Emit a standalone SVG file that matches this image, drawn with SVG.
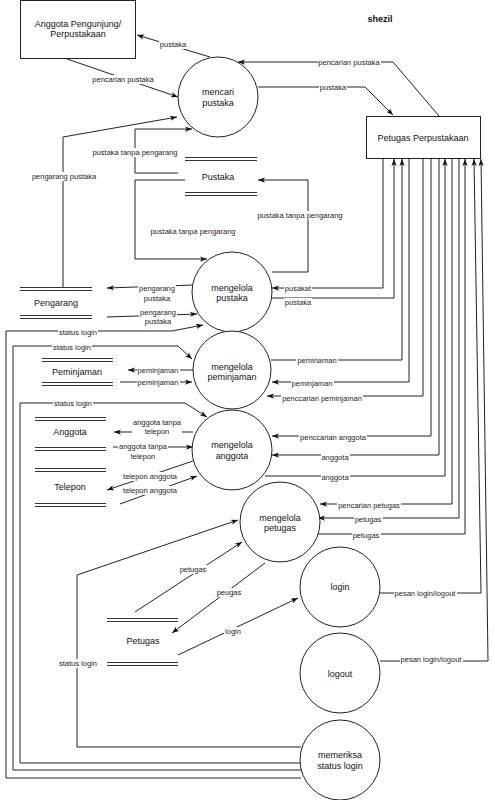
<svg xmlns="http://www.w3.org/2000/svg" width="495" height="800" viewBox="0 0 495 800">
<style>
.n{fill:#fff;stroke:#222;stroke-width:1}
.s{stroke:#333;stroke-width:1}
.t{font-family:"Liberation Sans",Arial,sans-serif;font-size:9px;fill:#111;text-anchor:middle}
.c path{fill:none;stroke:#222;stroke-width:1}
.a{marker-end:url(#ar)}
.b{fill:#fff}
.l{font-family:"Liberation Sans",Arial,sans-serif;font-size:7.5px;fill:#222;text-anchor:middle}
</style>
<defs>
<marker id="ar" viewBox="0 0 8 6" refX="8" refY="3" markerWidth="7" markerHeight="5.5" orient="auto" markerUnits="userSpaceOnUse"><path d="M0,0 L8,3 L0,6 L2,3z" fill="#111"/></marker>
</defs>
<rect width="495" height="800" fill="#fff"/>
<g class="c" id="connectors">
<path class="a" d="M210,57 L137,35"/>
<path class="a" d="M67,59 L178,97"/>
<path class="a" d="M439,116 L393,62 L238,62"/>
<path class="a" d="M258,87 L365,87 L393,115"/>
<path class="a" d="M178,173 L135,173 L135,129 L192,129"/>
<path class="a" d="M185,180 L135,180 L135,259 L207,259"/>
<path class="a" d="M272,272 L308,272 L308,180 L258,180"/>
<path class="a" d="M63,287 L63,137 L177,117"/>
<path class="a" d="M193,285 L107,288"/>
<path class="a" d="M107,317 L197,314"/>
<path class="a" d="M301,778 L6,778 L6,331 L172,331 L203,325"/>
<path class="a" d="M301,770 L13,770 L13,346 L178,346 L192,359"/>
<path class="a" d="M301,763 L20,763 L20,403 L185,403 L207,417"/>
<path class="a" d="M301,747 L77,747 L77,575 L238,520"/>
<path class="a" d="M383,158 L383,288 L272,288"/>
<path class="a" d="M271,298 L394,298 L394,159"/>
<path class="a" d="M271,360 L402,360 L402,159"/>
<path class="a" d="M409,158 L409,382 L272,382"/>
<path class="a" d="M423,158 L423,396 L267,396"/>
<path class="a" d="M431,158 L431,436 L272,436"/>
<path class="a" d="M439,158 L439,455 L272,455"/>
<path class="a" d="M265,476 L445,476 L445,159"/>
<path class="a" d="M452,158 L452,504 L320,504"/>
<path class="a" d="M459,158 L459,518 L318,518"/>
<path class="a" d="M317,534 L465,534 L465,159"/>
<path class="a" d="M380,593 L481,593 L474,159"/>
<path class="a" d="M380,661 L488,661 L481,159"/>
<path class="a" d="M193,370 L128,370"/>
<path class="a" d="M120,382 L192,382"/>
<path class="a" d="M193,432 L114,432"/>
<path class="a" d="M113,447 L193,447"/>
<path class="a" d="M193,461 L107,490"/>
<path class="a" d="M120,504 L197,476"/>
<path class="a" d="M135,612 L242,542"/>
<path class="a" d="M265,563 L172,633"/>
<path class="a" d="M178,655 L298,598"/>
<g id="label-bg">
<rect class="b" x="159" y="40" width="28" height="9"/>
<rect class="b" x="92" y="75" width="63" height="9"/>
<rect class="b" x="318" y="58" width="63" height="9"/>
<rect class="b" x="319" y="83" width="28" height="9"/>
<rect class="b" x="92" y="148" width="87" height="9"/>
<rect class="b" x="150" y="227" width="87" height="9"/>
<rect class="b" x="257" y="211" width="87" height="9"/>
<rect class="b" x="31" y="172" width="66" height="9"/>
<rect class="b" x="138" y="284" width="38" height="19"/>
<rect class="b" x="139" y="308" width="38" height="18"/>
<rect class="b" x="58" y="328" width="40" height="9"/>
<rect class="b" x="52" y="343" width="40" height="9"/>
<rect class="b" x="53" y="399" width="40" height="9"/>
<rect class="b" x="58" y="659" width="40" height="9"/>
<rect class="b" x="284" y="284" width="28" height="9"/>
<rect class="b" x="284" y="298" width="28" height="9"/>
<rect class="b" x="296" y="356" width="42" height="9"/>
<rect class="b" x="291" y="379" width="43" height="9"/>
<rect class="b" x="281" y="394" width="82" height="9"/>
<rect class="b" x="299" y="433" width="68" height="9"/>
<rect class="b" x="321" y="453" width="29" height="9"/>
<rect class="b" x="321" y="473" width="29" height="9"/>
<rect class="b" x="337" y="501" width="64" height="9"/>
<rect class="b" x="354" y="515" width="29" height="9"/>
<rect class="b" x="352" y="531" width="29" height="9"/>
<rect class="b" x="394" y="589" width="63" height="9"/>
<rect class="b" x="400" y="655" width="63" height="9"/>
<rect class="b" x="137" y="366" width="43" height="9"/>
<rect class="b" x="137" y="378" width="43" height="9"/>
<rect class="b" x="132" y="418" width="50" height="18"/>
<rect class="b" x="118" y="442" width="50" height="19"/>
<rect class="b" x="122" y="472" width="56" height="9"/>
<rect class="b" x="122" y="486" width="56" height="9"/>
<rect class="b" x="179" y="565" width="28" height="9"/>
<rect class="b" x="216" y="588" width="27" height="9"/>
<rect class="b" x="224" y="627" width="18" height="9"/>
</g>
<g id="labels" opacity="0.99">
<text class="l" x="173" y="47">pustaka</text>
<text class="l" x="123" y="82">pencarian pustaka</text>
<text class="l" x="349" y="65">pencarian pustaka</text>
<text class="l" x="333" y="90">pustaka</text>
<text class="l" x="135" y="155">pustaka tanpa pengarang</text>
<text class="l" x="193" y="234">pustaka tanpa pengarang</text>
<text class="l" x="300" y="218">pustaka tanpa pengarang</text>
<text class="l" x="64" y="179">pengarang pustaka</text>
<text class="l" x="157" y="291">pengarang</text>
<text class="l" x="157" y="301">pustaka</text>
<text class="l" x="158" y="315">pengarang</text>
<text class="l" x="158" y="324">pustaka</text>
<text class="l" x="78" y="335">status login</text>
<text class="l" x="72" y="350">status login</text>
<text class="l" x="73" y="406">status login</text>
<text class="l" x="78" y="666">status login</text>
<text class="l" x="298" y="291">pusakat</text>
<text class="l" x="298" y="305">pustaka</text>
<text class="l" x="317" y="363">peminaman</text>
<text class="l" x="312" y="386">peminjaman</text>
<text class="l" x="322" y="401">penccarian peminjaman</text>
<text class="l" x="333" y="440">penccarian anggota</text>
<text class="l" x="335" y="460">anggota</text>
<text class="l" x="335" y="480">anggota</text>
<text class="l" x="369" y="508">pencarian petugas</text>
<text class="l" x="368" y="522">petugas</text>
<text class="l" x="366" y="538">petugas</text>
<text class="l" x="425" y="596">pesan login/logout</text>
<text class="l" x="431" y="662">pesan login/logout</text>
<text class="l" x="158" y="373">peminjaman</text>
<text class="l" x="158" y="385">peminjaman</text>
<text class="l" x="157" y="425">anggota tanpa</text>
<text class="l" x="157" y="434">telepon</text>
<text class="l" x="143" y="449">anggota tanpa</text>
<text class="l" x="143" y="459">telepon</text>
<text class="l" x="150" y="479">telepon anggota</text>
<text class="l" x="150" y="493">telepon anggota</text>
<text class="l" x="193" y="572">petugas</text>
<text class="l" x="229" y="595">peugas</text>
<text class="l" x="233" y="634">login</text>
</g>
</g>
<g id="anggota-pengunjung"><rect class="n" x="20.5" y="0.5" width="115" height="58"/><text class="t" x="78" y="27">Anggota Pengunjung/</text><text class="t" x="78" y="37">Perpustakaan</text></g>
<g id="shezil"><text class="t" x="380" y="22" font-weight="bold">shezil</text></g>
<g id="mencari-pustaka"><circle class="n" cx="218" cy="97" r="40"/><text class="t" x="218" y="95">mencari</text><text class="t" x="218" y="106">pustaka</text></g>
<g id="petugas-perpustakaan"><rect class="n" x="366.5" y="116.5" width="114" height="42"/><text class="t" x="423" y="141">Petugas Perpustakaan</text></g>
<g id="pustaka-store"><path class="s" d="M185,157.5H257M185,160.5H257M185,192.5H257M185,195.5H257"/><text class="t" x="218" y="180">Pustaka</text></g>
<g id="mengelola-pustaka"><circle class="n" cx="232" cy="292" r="40"/><text class="t" x="232" y="291">mengelola</text><text class="t" x="232" y="301">pustaka</text></g>
<g id="mengelola-peminjaman"><circle class="n" cx="232" cy="370" r="39"/><text class="t" x="232" y="370">mengelola</text><text class="t" x="232" y="380">peminjaman</text></g>
<g id="mengelola-anggota"><circle class="n" cx="232" cy="450" r="40"/><text class="t" x="232" y="448">mengelola</text><text class="t" x="232" y="459">anggota</text></g>
<g id="mengelola-petugas"><circle class="n" cx="280" cy="522" r="40"/><text class="t" x="280" y="521">mengelola</text><text class="t" x="280" y="531">petugas</text></g>
<g id="login"><circle class="n" cx="340" cy="587" r="40"/><text class="t" x="340" y="590">login</text></g>
<g id="logout"><circle class="n" cx="340" cy="673" r="40"/><text class="t" x="340" y="677">logout</text></g>
<g id="memeriksa-status-login"><circle class="n" cx="340" cy="760" r="40"/><text class="t" x="340" y="758">memeriksa</text><text class="t" x="340" y="769">status login</text></g>
<g id="pengarang-store"><path class="s" d="M20,287.5H92M20,290.5H92M20,315.5H92M20,318.5H92"/><text class="t" x="56" y="306">Pengarang</text></g>
<g id="peminjaman-store"><path class="s" d="M42,358.5H113M42,361.5H113M42,382.5H113M42,385.5H113"/><text class="t" x="77" y="375">Peminjaman</text></g>
<g id="anggota-store"><path class="s" d="M35,417.5H106M35,420.5H106M35,447.5H106M35,450.5H106"/><text class="t" x="70" y="435">Anggota</text></g>
<g id="telepon-store"><path class="s" d="M35,468.5H106M35,471.5H106M35,503.5H106M35,506.5H106"/><text class="t" x="70" y="490">Telepon</text></g>
<g id="petugas-store"><path class="s" d="M107,618.5H178M107,621.5H178M107,662.5H178M107,665.5H178"/><text class="t" x="143" y="644">Petugas</text></g>
</svg>
